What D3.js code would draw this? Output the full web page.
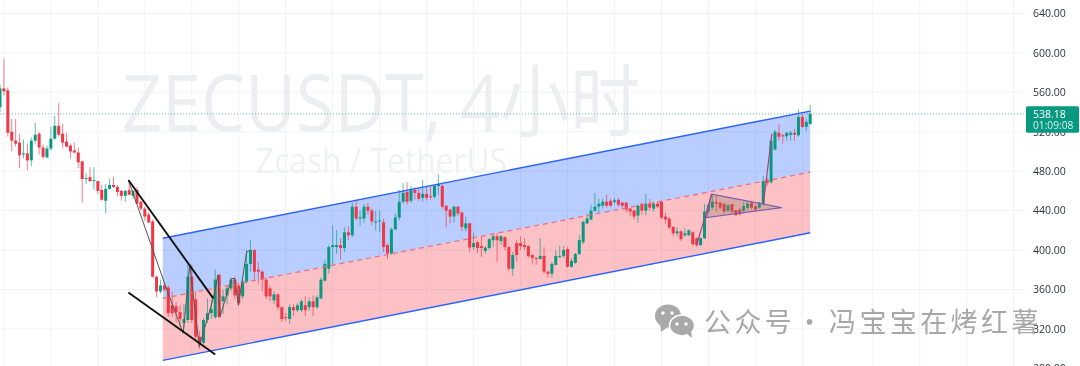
<!DOCTYPE html>
<html>
<head>
<meta charset="utf-8">
<script src="https://cdn.jsdelivr.net/npm/d3@7"></script>
<style>
  html, body { margin: 0; padding: 0; background: #fff; overflow: hidden; }
  svg { display: block; filter: blur(0.45px); }
  text { font-family: "Open Sans", "Noto Sans CJK SC", sans-serif; }
</style>
</head>
<body>
<div id="chart"></div>
<script>
const opens = [
  545,564,562,520,511,509,497,498,491,511,
  518,504,494,503,513,526,518,510,506,501,
  499,490,472,474,470,470,461,450,462,466,
  464,460,455,461,455,461,449,442,436,429,
  373,358,364,362,344,343,337,326,329,373,
  350,312,306,329,336,332,375,348,354,361,
  370,364,353,368,386,400,380,378,370,361,
  349,355,342,332,330,342,339,339,344,342,
  348,342,351,369,381,403,403,405,402,418,
  415,444,432,432,444,440,428,429,428,405,
  396.5,421,433,449,459,450,461,458,453,457,
  454.5,454,465,465,445,441,434,444,438,422,
  427,403,408,404,399,402,410,414,409,413,
  403,381,407,407,405,404,395,392,391,394,
  378,376,385,393.5,394,401,383,387,396,408,
  427,431,440,444,445,449,450,449,451,448,
  448,442,440,435,447,440,447,442,447,449,
  434,432,423.5,417,419,415,415,418,412,405,
  412,439,443,449,448,447,440,446.5,440.5,441,
  440,443,448,444.5,443,447,471.5,469,502,519,
  516.4,515.4,517,519,516.4,535,525,528
];
const closes = [
  564,561,519,511,508,496,498,491,511,517,
  504,494.5,503,513,526,517,509,505,500,499,
  489,472,473,470,471,460,451,462,466,464,
  459,455,460,456,460,447,442,434,428,373,
  358,364,360,336,336,337,330,330,373,329,
  312,304,329,336,340,370,332,353,361,370,
  354,346,368,386,400,378,378,370,353,353,
  355,342,330,331,342,339,344,348,339,348,
  342,352,370,386,403,405,405,402,418,415,
  444,432,433,444,440,429,429,430,403,396.5,
  421,433,449,458,449,462,458,452,457,453,
  454,465,467,444,440,434,444,437,423.5,427,
  402.5,407,402,402,402.5,411,414,410,414,403,
  381,395,395,404,403,394,392,391,394,378,
  376,386,394,394,400,383,389,396,410,428.5,
  432,440,444,447,449,445,445,450.5,446,445,
  441,439,434,445,440,447,443,447,444,433,
  431,423,417,419,411,417,420,406,405,412,
  439,445.5,449,447,443,439,445.5,439,435.4,436.4,
  444.5,447,443,441,448,470,468,511,520,515,
  516,519,519,517,535,525,530,538.18
];
const highs = [
  568,594,565,533,533,518,512,508,514,529,
  520,507,506,525,536,549,528,519,508,509,
  504,490,478,484,484,470,466,467,472,474,
  466,461,461,471,461,464,450,444,438,431,
  374,370,366,364,358,347,344,345,385,385,
  358,318,331,351,350,380,376,360,364,372,
  373,366,370,400,410,401,388,380,372,364,
  358,356,343,336,345,345,346,350,353,352,
  354,354,372,390,405,425,420,412,423,424,
  448,450,440,447,448,442,440,440,432,407,
  423,437,461,468,469,465,464,462,471,464,
  465,466,477,467,445,442,445,445,439,434,
  428,418,409,414,404,412,417,417,415,414,
  404,398,410,414,412,405,396,393,412,403,
  379,388,400,404,404,403,392,397,415,430,
  437,446,458,452,452,456,452,453,453,449,
  449,443,441,446,448,457,452,449,449,450,
  438,433,424,423,420,422,421,419,413,413,
  447,447,457,455,449,448,447,447,441,443,
  449,449,450,446,449,475,473,513,522,528,
  518,520,521,523,543,538,533,547
];
const lows = [
  540,557,515,500,505,483,493,481,485,508,
  497,492,493,501,512,515,503,504,493,498,
  483,448,467,469,461,457,450,437,461,463,
  455,450,449,456,452,447,440,430,427,372,
  352,356,358,332,332,327,322,321,326,326,
  308,300,304,326,330,330,331,335,345,358,
  350,344,350,366,378,370,366,358,350,348,
  345,339,327,328,325,333,337,337,333,338,
  333,340,350,368,376,385,396,390,398,410,
  413,430,425,428,436,425,420,418,398,391,
  395,420,430,447,446,448,451,450,449,450,
  451,452,456,442,423,427,428,434,419,419,
  398,400,397,393,396,400,403,388,405,400,
  379,374,388,400,400,392,386,385,390,376,
  372,372,384,392,392,382,382,386,395,406,
  426,430,439,438,442,443,444,447,444,441,
  438,434,431,428,436,435,440,439,442,431,
  427,421,414,414,409,413,414,404,403,404,
  411,437,441,439,441,437,438,437,434,435,
  438,441,441,439,442,446,465,467,501,511,
  508,511,510.7,511,515,524,521,527
];

const priceTicks = [640, 600, 560, 520, 480, 440, 400, 360, 320, 280];
const gridBars = [1,13,25,37,49,61,73,85,97,109,121,133,145,157,169,181,193,205,223,235,247,259];
const lastPrice = 538.18;
const countdown = "01:09:08";

// drawings, as [bar index, price]
const channelTop = [[41.6, 412], [207, 541]];
const channelMid = [[41.6, 351], [207, 479]];
const channelBottom = [[41.6, 288], [207, 417.5]];
const wedgeUpper = [[32.8, 471], [54.5, 351]];
const wedgeLower = [[32.8, 357], [55, 294]];
const zigzag = [[32.8, 471], [42.2, 364.5], [46.8, 315.6], [48.5, 385], [50.9, 302], [54.5, 351],
  [55.7, 374.6], [56.2, 332.5], [59.2, 371], [60, 371], [60.9, 344], [63, 398], [64, 400]];
const triangle = [[181.8, 456.7], [199.7, 443], [180.5, 433]];
const poleLeft = [[178, 405], [181.8, 456.7]];
const poleRight = [[195, 445.5], [197.2, 518]];

const width = 1080, height = 366;
const upColor = "#089981", downColor = "#f23645";

const svg = d3.select("#chart")
  .append("svg")
  .attr("width", width)
  .attr("height", height);

const x = d3.scaleLinear().domain([0, 207]).range([0, 810.2]);
const y = d3.scaleLinear().domain([640, 280]).range([13.5, 368.3]);
const line = d3.line().x(d => x(d[0])).y(d => y(d[1]));

// grid
svg.append("g").selectAll("line")
  .data(priceTicks)
  .enter().append("line")
  .attr("x1", 0).attr("x2", 1025)
  .attr("y1", d => y(d)).attr("y2", d => y(d))
  .attr("stroke", "#f0f2f6");
svg.append("g").selectAll("line")
  .data(gridBars)
  .enter().append("line")
  .attr("x1", d => x(d)).attr("x2", d => x(d))
  .attr("y1", 0).attr("y2", height)
  .attr("stroke", "#f0f2f6");

// big symbol watermark, squeezed to the width of the original font
svg.append("text")
  .attr("x", 122).attr("y", 130.5)
  .attr("fill", "#eceef2")
  .attr("textLength", 518)
  .attr("lengthAdjust", "spacingAndGlyphs")
  .style("font-size", "79px")
  .text("ZECUSDT, 4小时");
svg.append("text")
  .attr("x", 256).attr("y", 172.5)
  .attr("fill", "#eff1f4")
  .attr("textLength", 251)
  .attr("lengthAdjust", "spacingAndGlyphs")
  .style("font-size", "35px")
  .text("Zcash / TetherUS");

// channel fills
const band = (a, b) => line([a[0], a[1], b[1], b[0]]) + "Z";
svg.append("path").attr("d", band(channelTop, channelMid)).attr("fill", "#2962ff").attr("fill-opacity", 0.32);
svg.append("path").attr("d", band(channelMid, channelBottom)).attr("fill", "#f7525f").attr("fill-opacity", 0.36);

// last price line
svg.append("line")
  .attr("x1", 0).attr("x2", 1026)
  .attr("y1", y(lastPrice)).attr("y2", y(lastPrice))
  .attr("stroke", upColor)
  .attr("stroke-opacity", 0.6)
  .attr("stroke-dasharray", "1 2");

// candles
const candles = d3.range(opens.length);
const color = i => closes[i] >= opens[i] ? upColor : downColor;
svg.append("g").selectAll("line")
  .data(candles)
  .enter().append("line")
  .attr("x1", i => x(i)).attr("x2", i => x(i))
  .attr("y1", i => y(highs[i])).attr("y2", i => y(lows[i]))
  .attr("stroke", color)
  .attr("stroke-opacity", 0.65);
svg.append("g").selectAll("rect")
  .data(candles)
  .enter().append("rect")
  .attr("x", i => x(i) - 1.5)
  .attr("width", 3)
  .attr("y", i => y(Math.max(opens[i], closes[i])))
  .attr("height", i => Math.max(1, Math.abs(y(opens[i]) - y(closes[i]))))
  .attr("fill", color);

// channel lines
[channelTop, channelBottom].forEach(d => {
  svg.append("path").attr("d", line(d)).attr("fill", "none").attr("stroke", "#2962ff").attr("stroke-width", 1.4);
});
svg.append("path").attr("d", line(channelMid))
  .attr("fill", "none").attr("stroke", "#ee6a80").attr("stroke-width", 1.2).attr("stroke-dasharray", "5 4");

// pattern drawings
svg.append("path").attr("d", line(zigzag)).attr("fill", "none").attr("stroke", "#555").attr("stroke-width", 1);
svg.append("path").attr("d", line(triangle) + "Z")
  .attr("fill", "#877758").attr("fill-opacity", 0.3)
  .attr("stroke", "#7a5fb0").attr("stroke-width", 1.2);
[poleLeft, poleRight].forEach(d => {
  svg.append("path").attr("d", line(d)).attr("fill", "none").attr("stroke", "#a0477f").attr("stroke-width", 1.2);
});
[wedgeUpper, wedgeLower].forEach(d => {
  svg.append("path").attr("d", line(d)).attr("fill", "none").attr("stroke", "#111").attr("stroke-width", 1.9);
});

// price axis
const axis = svg.append("g")
  .attr("transform", "translate(1026,0)")
  .call(d3.axisRight(y).tickValues(priceTicks).tickFormat(d => d.toFixed(2)).tickSize(0).tickPadding(7));
axis.select(".domain").remove();
axis.selectAll("text")
  .attr("fill", "#2f3340")
  .style("font-size", "10.5px")
  .style("font-family", "'Open Sans', sans-serif");

// last price tag
svg.append("rect")
  .attr("x", 1026).attr("y", y(lastPrice) - 7.7)
  .attr("width", 53).attr("height", 26.7)
  .attr("rx", 1.5)
  .attr("fill", upColor);
svg.append("text")
  .attr("x", 1033).attr("y", y(lastPrice) + 3.8)
  .attr("fill", "#fff")
  .style("font-size", "10.5px")
  .text(lastPrice.toFixed(2));
svg.append("text")
  .attr("x", 1033).attr("y", y(lastPrice) + 15.6)
  .attr("fill", "#d4efe9")
  .style("font-size", "10.2px")
  .text(countdown);

// wechat stamp
const stamp = svg.append("g").attr("fill", "#a9a9a9");
stamp.append("ellipse").attr("cx", 668).attr("cy", 316).attr("rx", 13).attr("ry", 11.5);
stamp.append("path").attr("d", "M660 323 L661 332 L669 326 Z");
stamp.append("ellipse").attr("cx", 682).attr("cy", 325.5).attr("rx", 12.5).attr("ry", 10.5).attr("stroke", "#fff").attr("stroke-width", 1.5);
stamp.append("path").attr("d", "M686 333 L692 338 L691 329 Z");
[[663, 313], [672, 313], [677, 324], [686, 324]].forEach(p => {
  stamp.append("circle").attr("cx", p[0]).attr("cy", p[1]).attr("r", 1.7).attr("fill", "#fff");
});
const stampText = (tx, s) => svg.append("text")
  .attr("x", tx).attr("y", 332)
  .attr("fill", "#a8a8a8")
  .style("font-family", "'Noto Sans CJK SC', sans-serif")
  .style("font-size", "27px")
  .style("letter-spacing", "3.4px")
  .text(s);
stampText(704, "公众号");
stampText(796, "·");
stampText(829, "冯宝宝在烤红薯");
</script>
</body>
</html>
